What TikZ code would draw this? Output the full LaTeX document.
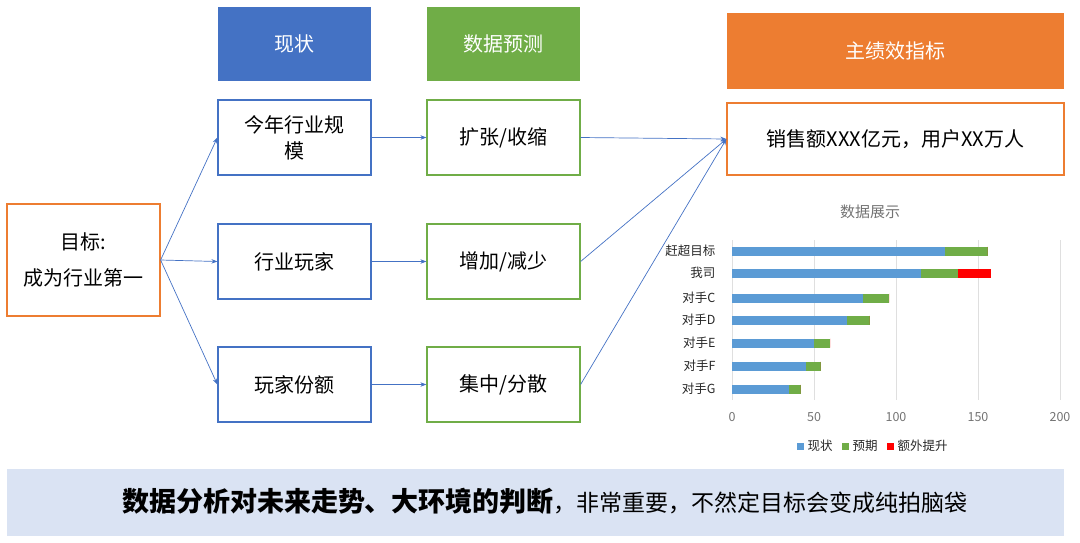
\documentclass[tikz,border=0pt]{standalone}
\usepackage{fontspec}
\setmainfont{Noto Sans CJK SC}
\usetikzlibrary{positioning,arrows.meta}
\definecolor{hblue}{HTML}{4472C4}
\definecolor{hgreen}{HTML}{70AD47}
\definecolor{horange}{HTML}{ED7D31}
\definecolor{bblue}{HTML}{5B9BD5}
\definecolor{band}{HTML}{DAE3F3}
\tikzset{
  head/.style={minimum width=153pt, minimum height=74pt, text=white, font=\fontsize{20}{22}\selectfont},
  cell/.style={draw=#1, line width=1.2pt, fill=white, minimum width=153pt, minimum height=75pt, align=center, font=\fontsize{20}{26}\selectfont},
  link/.style={-{Stealth[length=6pt]}, hblue, line width=0.7pt},
  chartlab/.style={text=gray!30!black, font=\fontsize{12.5}{14}\selectfont},
}
\begin{document}
\begin{tikzpicture}[x=1pt, y=-1pt]
	\useasboundingbox (0,0) rectangle (1080,542);
	
	%Kopfzeile
	\node[head, fill=hblue] (hnow) at (294.5,44) {现状};
	\node[head, fill=hgreen] (hpred) at (503.5,44) {数据预测};
	\node[head, fill=horange, minimum width=337pt, minimum height=76pt] (hkpi) at (895.5,51) {主绩效指标};
	
	%Ziel
	\node[cell=horange, minimum height=112pt, font=\fontsize{20}{36}\selectfont] (goal) at (83.5,260) {目标:\\成为行业第一};
	
	%Spalten
	\node[cell=hblue] (scale) at (294.5,137.5) {今年行业规\\模};
	\node[cell=hblue] (player) at (294.5,261.5) {行业玩家};
	\node[cell=hblue] (share) at (294.5,384.5) {玩家份额};
	\node[cell=hgreen] (expand) at (503.5,137.5) {扩张/收缩};
	\node[cell=hgreen] (incr) at (503.5,261.5) {增加/减少};
	\node[cell=hgreen] (conc) at (503.5,384.5) {集中/分散};
	\node[cell=horange, minimum width=337pt, minimum height=72pt] (sales) at (895.5,139) {销售额XXX亿元，用户XX万人};
	
	\coordinate (split) at (goal.east);
	\foreach \n in {scale,player,share} {
		\draw[link] (split) -- (\n.west);
	}
	\draw[link] (scale) -- (expand);
	\draw[link] (player) -- (incr);
	\draw[link] (share) -- (conc);
	\foreach \n in {expand,incr,conc} {
		\draw[link] (\n.east) -- (sales.west);
	}
	
	%Diagramm
	\node[text=gray!90!black, font=\fontsize{15}{17}\selectfont] (ctitle) at (870,212) {数据展示};
	\foreach \v in {0,50,...,200} {
		\draw[gray!25, line width=0.8pt] (732+\v*1.64,240) -- (732+\v*1.64,400);
		\node[chartlab, text=gray!90!black] at (732+\v*1.64,417) {\v};
	}
	\foreach \lab/\y/\a/\b/\c in {赶超目标/251/130/26/0, 我司/273/115/23/20, 对手C/298/80/16/0, 对手D/320/70/14/0, 对手E/343/50/10/0, 对手F/366/45/9/0, 对手G/389/35/7/0} {
		\fill[bblue] (732,\y-4.5) rectangle ++(\a*1.64,9);
		\fill[hgreen] (732+\a*1.64,\y-4.5) rectangle ++(\b*1.64,9);
		\fill[red] (732+\a*1.64+\b*1.64,\y-4.5) rectangle ++(\c*1.64,9);
		\node[chartlab, anchor=east] at (719,\y) {\lab};
	}
	\fill[bblue] (797,443) rectangle ++(7,7);
	\node[chartlab, anchor=west] at (804,446) {现状};
	\fill[hgreen] (842,443) rectangle ++(7,7);
	\node[chartlab, anchor=west] at (849,446) {预期};
	\fill[red] (887,443) rectangle ++(7,7);
	\node[chartlab, anchor=west] at (894,446) {额外提升};
	
	%Fusszeile
	\fill[band] (7,469) rectangle (1064,536);
	\node[font=\fontsize{27}{30}\selectfont] (note) at (545,501) {{\bfseries 数据分析对未来走势、大环境的判断}{\fontsize{23}{26}\selectfont，非常重要，不然定目标会变成纯拍脑袋}};
\end{tikzpicture}
\end{document}
